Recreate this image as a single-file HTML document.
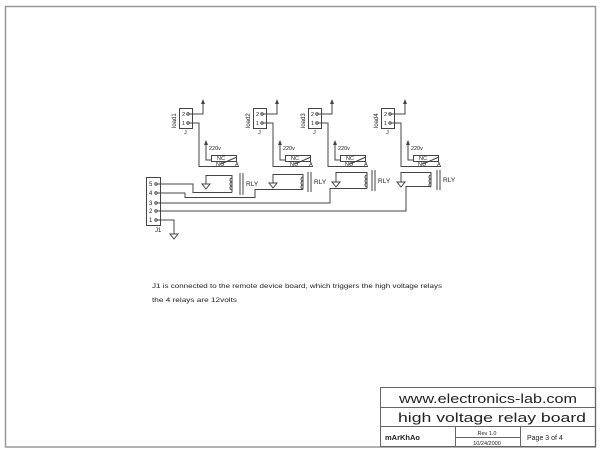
<!DOCTYPE html>
<html><head><meta charset="utf-8"><style>
html,body{margin:0;padding:0;background:#fff;}
svg{display:block;}
text{font-family:"Liberation Sans",sans-serif;fill:#222;}
</style></head><body>
<svg width="600" height="453" viewBox="0 0 600 453" xmlns="http://www.w3.org/2000/svg">
<rect x="5.5" y="6.5" width="590" height="440.5" fill="none" stroke="#999" stroke-width="1.5"/>
<g stroke="#444" stroke-width="1" fill="none">
<!-- J1 -->
<rect x="146.5" y="177.5" width="14" height="48"/>
<circle cx="156" cy="184" r="1.2"/><circle cx="156" cy="193" r="1.2"/><circle cx="156" cy="203" r="1.2"/><circle cx="156" cy="211" r="1.2"/><circle cx="156" cy="220" r="1.2"/>
<polyline points="157,184 193,184 193,192.5 232,192.5"/>
<polyline points="157,193 185,193 185,197.5 255,197.5 255,189.5 303,189.5"/>
<polyline points="157,203 330,203 330,188.5 367,188.5"/>
<polyline points="157,211 406,211 406,186.5 431,186.5"/>
<polyline points="157,220 174,220 174,234"/>
<polygon points="170,234 178,234 174,239"/>
</g>
<g font-size="6">
<text x="149" y="186">5</text><text x="149" y="195">4</text><text x="149" y="205">3</text><text x="149" y="213">2</text><text x="149" y="222">1</text>
<text x="155" y="232">J1</text>
</g>

<!-- load units -->
<g id="u1" transform="translate(179,0)">
<g stroke="#444" stroke-width="1" fill="none">
<rect x="0.5" y="108.5" width="13" height="20"/>
<circle cx="9" cy="114" r="1.2"/><circle cx="9" cy="123" r="1.2"/>
<polyline points="10,114 24,114 24,101"/>
<polyline points="10,123 20,123 20,166.5 60,166.5"/>
<polyline points="27,143 27,160 32,160"/>
<rect x="32.5" y="155.5" width="25" height="6"/>
<line x1="42" y1="164" x2="58" y2="157"/>
</g>
<polygon points="22,104 24,99 26,104" fill="#444"/>
<polygon points="25,145 27,140 29,145" fill="#444"/>
<g font-size="5.5"><text x="3" y="116">2</text><text x="3" y="125">1</text><text x="5" y="134">J</text>
<text x="30" y="150">220v</text><text x="38" y="160">NC</text><text x="37" y="166">NO</text><text x="56" y="166">A</text></g>
<text font-size="6" transform="translate(-3,128) rotate(-90)">load1</text>
</g>
<g transform="translate(253,0)">
<g stroke="#444" stroke-width="1" fill="none">
<rect x="0.5" y="108.5" width="13" height="20"/>
<circle cx="9" cy="114" r="1.2"/><circle cx="9" cy="123" r="1.2"/>
<polyline points="10,114 24,114 24,101"/>
<polyline points="10,123 20,123 20,166.5 60,166.5"/>
<polyline points="27,143 27,160 32,160"/>
<rect x="32.5" y="155.5" width="25" height="6"/>
<line x1="42" y1="164" x2="58" y2="157"/>
</g>
<polygon points="22,104 24,99 26,104" fill="#444"/>
<polygon points="25,145 27,140 29,145" fill="#444"/>
<g font-size="5.5"><text x="3" y="116">2</text><text x="3" y="125">1</text><text x="5" y="134">J</text>
<text x="30" y="150">220v</text><text x="38" y="160">NC</text><text x="37" y="166">NO</text><text x="56" y="166">A</text></g>
<text font-size="6" transform="translate(-3,128) rotate(-90)">load2</text>
</g>
<g transform="translate(308,0)">
<g stroke="#444" stroke-width="1" fill="none">
<rect x="0.5" y="108.5" width="13" height="20"/>
<circle cx="9" cy="114" r="1.2"/><circle cx="9" cy="123" r="1.2"/>
<polyline points="10,114 24,114 24,101"/>
<polyline points="10,123 20,123 20,166.5 60,166.5"/>
<polyline points="27,143 27,160 32,160"/>
<rect x="32.5" y="155.5" width="25" height="6"/>
<line x1="42" y1="164" x2="58" y2="157"/>
</g>
<polygon points="22,104 24,99 26,104" fill="#444"/>
<polygon points="25,145 27,140 29,145" fill="#444"/>
<g font-size="5.5"><text x="3" y="116">2</text><text x="3" y="125">1</text><text x="5" y="134">J</text>
<text x="30" y="150">220v</text><text x="38" y="160">NC</text><text x="37" y="166">NO</text><text x="56" y="166">A</text></g>
<text font-size="6" transform="translate(-3,128) rotate(-90)">load3</text>
</g>
<g transform="translate(381,0)">
<g stroke="#444" stroke-width="1" fill="none">
<rect x="0.5" y="108.5" width="13" height="20"/>
<circle cx="9" cy="114" r="1.2"/><circle cx="9" cy="123" r="1.2"/>
<polyline points="10,114 24,114 24,101"/>
<polyline points="10,123 20,123 20,166.5 60,166.5"/>
<polyline points="27,143 27,160 32,160"/>
<rect x="32.5" y="155.5" width="25" height="6"/>
<line x1="42" y1="164" x2="58" y2="157"/>
</g>
<polygon points="22,104 24,99 26,104" fill="#444"/>
<polygon points="25,145 27,140 29,145" fill="#444"/>
<g font-size="5.5"><text x="3" y="116">2</text><text x="3" y="125">1</text><text x="5" y="134">J</text>
<text x="30" y="150">220v</text><text x="38" y="160">NC</text><text x="37" y="166">NO</text><text x="56" y="166">A</text></g>
<text font-size="6" transform="translate(-3,128) rotate(-90)">load4</text>
</g>

<!-- relays -->
<g stroke="#444" stroke-width="1" fill="none">
<polyline points="206,184 206,175.5 232,175.5 232,192.5"/>
<path d="M232,178 a2,2 0 0 0 0,4 a2,2 0 0 0 0,4 a2,2 0 0 0 0,4"/>
<line x1="240" y1="173" x2="240" y2="195"/><line x1="243" y1="173" x2="243" y2="195"/>
<polygon points="202,184 210,184 206,189"/>

<polyline points="273,183 273,174.5 303,174.5 303,189.5"/>
<path d="M303,177 a2,2 0 0 0 0,4 a2,2 0 0 0 0,4 a2,2 0 0 0 0,4"/>
<line x1="308" y1="172" x2="308" y2="192"/><line x1="311" y1="172" x2="311" y2="192"/>
<polygon points="269,183 277,183 273,188"/>

<polyline points="336,182 336,172.5 367,172.5 367,188.5"/>
<path d="M367,175 a2,2 0 0 0 0,4 a2,2 0 0 0 0,4 a2,2 0 0 0 0,4"/>
<line x1="372" y1="170" x2="372" y2="191"/><line x1="375" y1="170" x2="375" y2="191"/>
<polygon points="332,182 340,182 336,187"/>

<polyline points="401,182 401,172.5 431,172.5 431,186.5"/>
<path d="M431,175 a2,2 0 0 0 0,4 a2,2 0 0 0 0,4 a2,2 0 0 0 0,4"/>
<line x1="437" y1="170" x2="437" y2="190"/><line x1="440" y1="170" x2="440" y2="190"/>
<polygon points="397,182 405,182 401,187"/>
</g>
<g font-size="6.5">
<text x="246" y="186">RLY</text><text x="314" y="184">RLY</text><text x="378" y="183">RLY</text><text x="443" y="182">RLY</text>
</g>

<text x="152" y="288" font-size="6" textLength="290" lengthAdjust="spacingAndGlyphs">J1 is connected to the remote device board, which triggers the high voltage relays</text>
<text x="152" y="302" font-size="6" textLength="85" lengthAdjust="spacingAndGlyphs">the 4 relays are 12volts</text>

<!-- title block -->
<g stroke="#666" stroke-width="1" fill="none">
<rect x="380.5" y="387.5" width="215" height="59"/>
<line x1="380" y1="407.5" x2="596" y2="407.5"/>
<line x1="380" y1="426.5" x2="596" y2="426.5"/>
<line x1="455.5" y1="426" x2="455.5" y2="447"/>
<line x1="520.5" y1="426" x2="520.5" y2="447"/>
<line x1="455" y1="437.5" x2="520" y2="437.5"/>
</g>
<text x="488" y="403" font-size="12.5" text-anchor="middle" font-family="Liberation Mono,monospace" textLength="178" lengthAdjust="spacingAndGlyphs">www.electronics-lab.com</text>
<text x="492" y="422" font-size="12.5" text-anchor="middle" font-family="Liberation Mono,monospace" textLength="188" lengthAdjust="spacingAndGlyphs">high voltage relay board</text>
<text x="385" y="440" font-size="7.5" font-weight="bold">mArKhAo</text>
<text x="487" y="435" font-size="5.5" text-anchor="middle">Rev 1.0</text>
<text x="487" y="445" font-size="5.5" text-anchor="middle">10/24/2000</text>
<text x="527" y="440" font-size="7">Page 3 of 4</text>
</svg>
</body></html>
